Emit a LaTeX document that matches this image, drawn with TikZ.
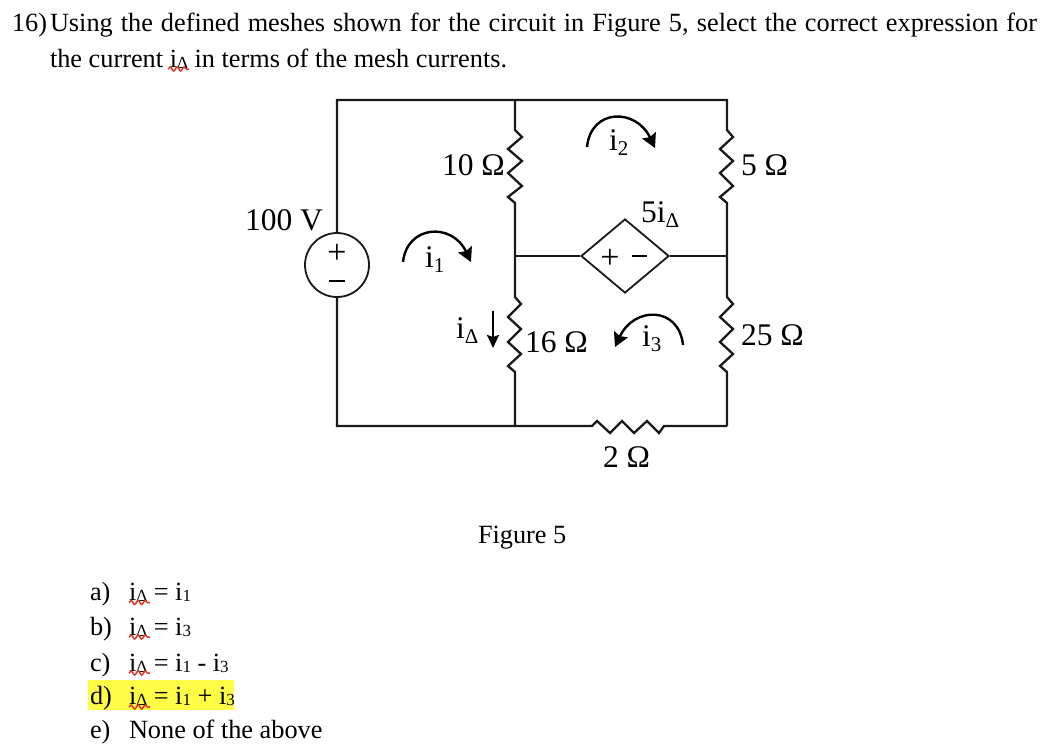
\documentclass[tikz,border=0pt]{standalone}
\usepackage{fontspec}
\setmainfont{Liberation Serif}
\usetikzlibrary{arrows.meta,shapes.geometric,decorations.pathmorphing}
\definecolor{hl}{RGB}{255,253,70}
\definecolor{squigred}{RGB}{218,56,40}
\newcommand{\psub}[1]{\raisebox{-1.5pt}{\fontsize{17}{17}\selectfont #1}}
\newcommand{\csub}[1]{\raisebox{-5pt}{\fontsize{21}{21}\selectfont #1}}
\tikzset{
  wire/.style={line width=2.3pt,line join=miter,black!90},
  thin wire/.style={line width=2pt,black!90},
  body/.style={font=\fontsize{26.3}{26.3}\selectfont,anchor=base west,inner sep=0pt,outer sep=0pt},
  clabel/.style={font=\fontsize{31.5}{31.5}\selectfont,anchor=base west,inner sep=0pt,outer sep=0pt},
  mesh/.style={line width=2.4pt,-{Stealth[length=14pt,width=15pt,inset=2pt]}},
  squig/.style={draw=squigred,line width=1.5pt,decorate,decoration={snake,amplitude=2pt,segment length=7pt}}
}
\begin{document}
\begin{tikzpicture}[x=1pt,y=-1pt]
\useasboundingbox (0,0) rectangle (1058,750);
\fill[white] (0,0) rectangle (1058,750);
% highlight
\fill[hl] (88,680) rectangle (234,710);
% question
\node[body] (q) at (12,31) {16)};
\node[body] (q1) at (50,31) {\makebox[987pt][s]{Using the defined meshes shown for the circuit in Figure 5, select the correct expression for}};
\node[body] (q2) at (50,67) {the current i\psub{Δ} in terms of the mesh currents.};
\draw[squig] (168,69) -- (189,69);
% junctions
\coordinate (tl) at (337,100);
\coordinate (tm) at (515,100);
\coordinate (tr) at (727,100);
\coordinate (ml) at (515,256);
\coordinate (mr) at (727,256);
\coordinate (bl) at (337,426);
\coordinate (bm) at (515,426);
\coordinate (br) at (727,426);
% source
\node[circle,draw=black!90,line width=1.8pt,minimum size=64pt,inner sep=0pt] (src) at (337,265) {};
\node[inner sep=0pt,font=\fontsize{34}{34}\selectfont] (plus) at (337,254) {+};
\coordinate (minusa) at (329,281);
\coordinate (minusb) at (345,281);
\draw[line width=2pt] (minusa) -- (minusb);
% diamond
\node[diamond,draw=black!90,line width=1.8pt,minimum width=88pt,minimum height=74pt,inner sep=0pt,aspect=1.19] (dep) at (625,256) {};
\node[inner sep=0pt,font=\fontsize{34}{34}\selectfont] (dplus) at (610,259) {+};
\coordinate (dma) at (632,256);
\coordinate (dmb) at (647,256);
\draw[line width=2pt] (dma) -- (dmb);
% wires
\draw[wire] (src.north) -- (tl) -- (tm) -- (tr) -- (727,130)
  -- (733,137) -- (720,149) -- (733,161) -- (720,173) -- (733,186) -- (720,197) -- (727,203) -- (mr);
\draw[wire] (tm) -- (515,130)
  -- (522,137) -- (508,149) -- (522,161) -- (508,173) -- (522,186) -- (508,197) -- (515,203) -- (ml);
\draw[wire] (ml) -- (515,297)
  -- (521,304) -- (508,317) -- (521,329) -- (508,342) -- (521,354) -- (508,366) -- (515,372) -- (bm);
\draw[wire] (mr) -- (727,297)
  -- (733,304) -- (720,317) -- (733,329) -- (720,342) -- (733,354) -- (720,366) -- (727,372) -- (br);
\draw[wire] (src.south) -- (bl) -- (bm) -- (592,426)
  -- (597,421) -- (610,433) -- (622,421) -- (634,433) -- (647,421) -- (659,433) -- (664,426) -- (br);
\draw[thin wire] (ml) -- (dep.west);
\draw[thin wire] (dep.east) -- (mr);
% circuit labels
\node[clabel] (l100) at (245,230) {100 V};
\node[clabel] (l10) at (442,175) {10 Ω};
\node[clabel] (l5) at (741,175) {5 Ω};
\node[clabel] (l25) at (741,345) {25 Ω};
\node[clabel] (l16) at (525,352) {16 Ω};
\node[clabel] (l2) at (603,467) {2 Ω};
\node[clabel] (l5i) at (641,222) {5i\csub{Δ}};
\node[clabel] (li1) at (425,267) {i\csub{1}};
\node[clabel] (li2) at (609,150) {i\csub{2}};
\node[clabel] (li3) at (642,346) {i\csub{3}};
\node[clabel] (lid) at (456,338) {i\csub{Δ}};
% mesh arrows
\coordinate (m1a) at (403,262); \coordinate (m1b) at (471,262);
\draw[mesh] (m1a) .. controls (407,225) and (452,222) .. (m1b);
\coordinate (m2a) at (587,147); \coordinate (m2b) at (655,148);
\draw[mesh] (m2a) .. controls (591,108) and (636,108) .. (m2b);
\coordinate (m3a) at (683,345); \coordinate (m3b) at (615,347);
\draw[mesh] (m3a) .. controls (679,306) and (634,306) .. (m3b);
\coordinate (ida) at (493,311); \coordinate (idb) at (493,348);
\draw[line width=2.2pt,-{Stealth[length=13pt,width=12pt,inset=2pt]}] (ida) -- (idb);
% figure caption
\node[body] (fig) at (478,543) {Figure 5};
% options
\node[body] (a1) at (90,600) {a)};
\node[body] (a2) at (129,600) {i\psub{Δ} = i\psub{1}};
\node[body] (b1) at (90,635) {b)};
\node[body] (b2) at (129,635) {i\psub{Δ} = i\psub{3}};
\node[body] (c1) at (90,671) {c)};
\node[body] (c2) at (129,671) {i\psub{Δ} = i\psub{1} - i\psub{3}};
\node[body] (d1) at (90,704) {d)};
\node[body] (d2) at (129,704) {i\psub{Δ} = i\psub{1} + i\psub{3}};
\node[body] (e1) at (90,738) {e)};
\node[body] (e2) at (129,738) {None of the above};
\draw[squig] (129,602.5) -- (150,602.5);
\draw[squig] (129,637) -- (150,637);
\draw[squig] (129,673) -- (150,673);
\draw[squig] (129,707) -- (150,707);
\end{tikzpicture}
\end{document}
